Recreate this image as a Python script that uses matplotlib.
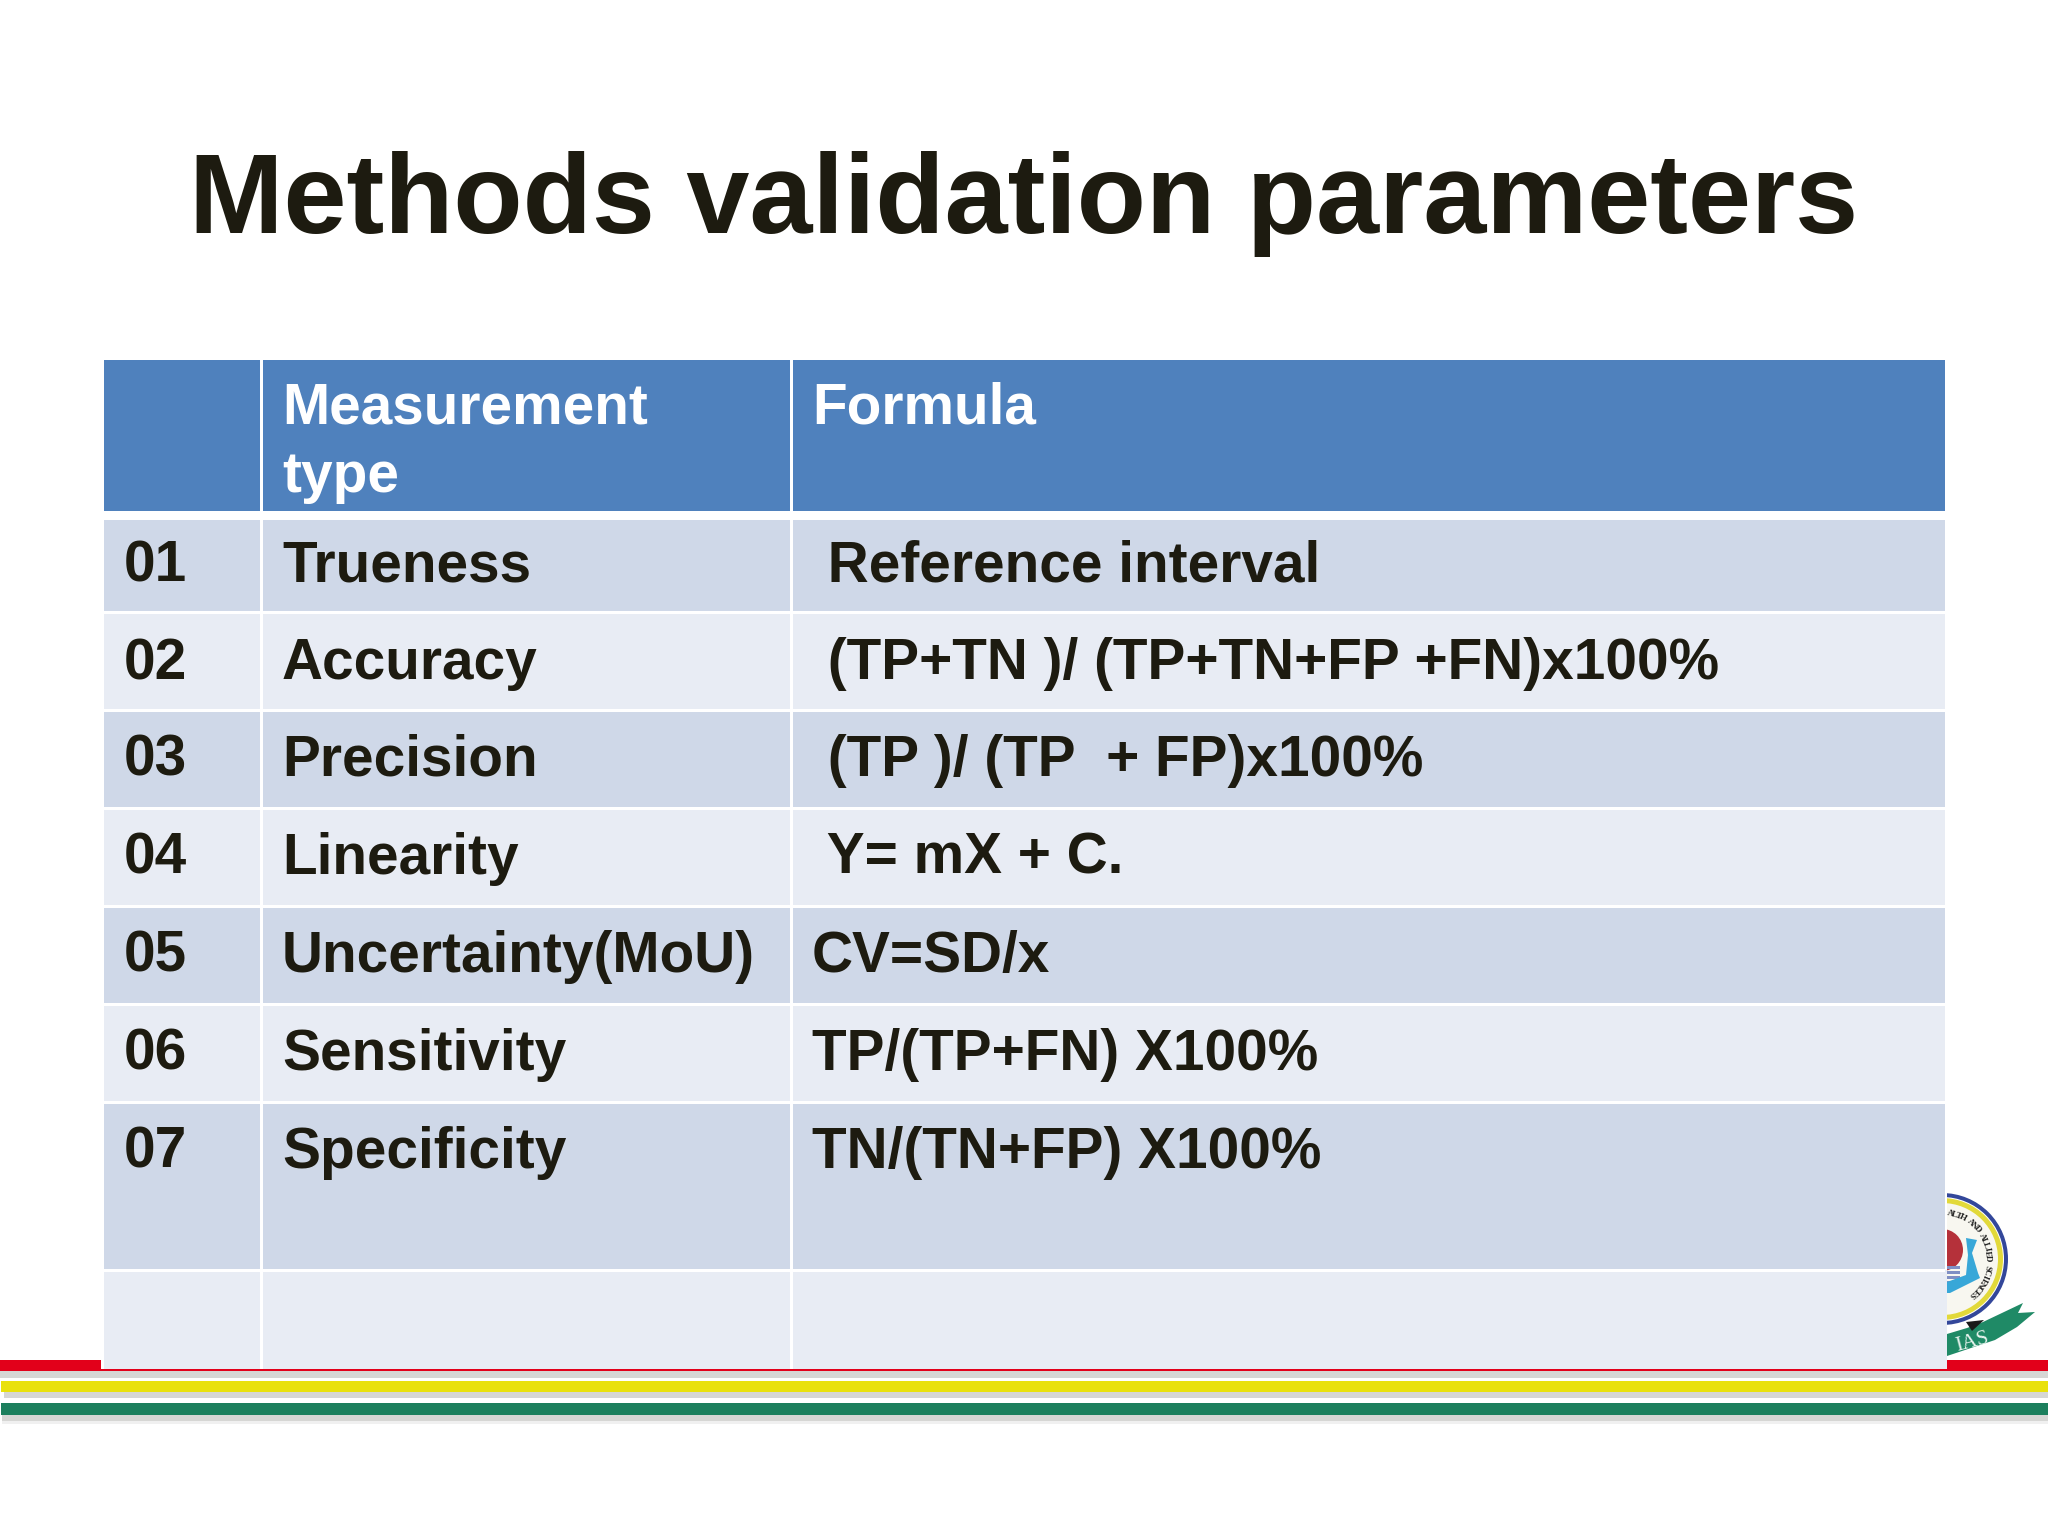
import matplotlib
matplotlib.use("Agg")
import numpy as np
import matplotlib.pyplot as plt
from matplotlib.patches import Rectangle, Circle, Polygon

title = "Methods validation parameters"
numbers = ["01", "02", "03", "04", "05", "06", "07", ""]
measures = ["Trueness", "Accuracy", "Precision", "Linearity", "Uncertainty(MoU)",
            "Sensitivity", "Specificity", ""]
formulas = [" Reference interval", " (TP+TN )/ (TP+TN+FP +FN)x100%", " (TP )/ (TP  + FP)x100%",
            " Y= mX + C.", "CV=SD/x", "TP/(TP+FN) X100%", "TN/(TN+FP) X100%", ""]
header = ["", "Measurement\ntype", "Formula"]

# pixel layout of the slide
col_edges = [104, 261, 791, 1945]
row_edges = [520, 612, 710, 808, 906, 1004, 1102, 1270, 1369]
baselines = [581, 679, 776, 874, 972, 1070, 1168]
text_x = [123.5, 282, 812]

HEAD = "#4f81bd"
BAND1 = "#cfd8e8"
BAND2 = "#e8ecf4"
INK = "#1d1b10"
BODY_SIZE = 40.9

plt.rcParams['font.family'] = ['Liberation Sans', 'DejaVu Sans']

fig = plt.figure(figsize=(20.48, 15.36), dpi=100)
ax = fig.add_axes([0, 0, 1, 1])
ax.set_xlim(0, 2048)
ax.set_ylim(1536, 0)
ax.axis('off')


def rect(x0, y0, x1, y1, color, z=1):
    ax.add_patch(Rectangle((x0, y0), x1 - x0, y1 - y0, facecolor=color, edgecolor='none', zorder=z))


# stripes at the bottom
rect(0, 1360, 2048, 1371, "#e2001a")
rect(0, 1371, 2048, 1378, "#d6d6d4")
rect(1, 1381, 2048, 1392, "#e9e10c")
rect(4, 1392, 2048, 1398, "#d6d6d4")
rect(1, 1403, 2048, 1415, "#1c7f5d")
rect(2, 1415, 2048, 1421, "#d6d6d4")
rect(2, 1421, 2048, 1424, "#f0f0f0")

# logo, the table hides its left part
lx, ly = 1942, 1259
ax.add_patch(Polygon([(1947, 1334), (1967, 1328), (1983, 1322), (2023, 1303), (2018, 1313), (2035, 1312),
                      (2017, 1327), (1995, 1340), (1947, 1356)], facecolor="#1f8a66", edgecolor='none', zorder=1))
ax.add_patch(Polygon([(1966, 1322), (1984, 1320), (1972, 1331)], facecolor="#1a1a1a", edgecolor='none', zorder=1))
ax.add_patch(Circle((lx, ly), 66, facecolor="#33479a", edgecolor='none', zorder=2))
ax.add_patch(Circle((lx, ly), 62, facecolor="white", edgecolor='none', zorder=2))
ax.add_patch(Circle((lx, ly), 61, facecolor="#e2d93a", edgecolor='none', zorder=2))
ax.add_patch(Circle((lx, ly), 56, facecolor="#f8f7f0", edgecolor='none', zorder=2))
ax.add_patch(Circle((lx, 1250), 21, facecolor="#b5313a", edgecolor='none', zorder=2))
for y0 in [1266, 1271, 1276, 1281]:
    rect(1947, y0, 1960, y0 + 3, "#7f8fc4", z=2)
ax.add_patch(Polygon([(1966, 1238), (1977, 1240), (1972, 1253), (1978, 1273), (1980, 1278), (1950, 1293),
                      (1947, 1293), (1947, 1282), (1966, 1275), (1968, 1255)],
                     facecolor="#38a7d8", edgecolor='none', zorder=3))
seal = "ALTH AND ALLIED SCIENCES"
for ch, ang in zip(seal, np.linspace(80, -50, len(seal))):
    a = np.deg2rad(ang)
    ax.text(lx + 46 * np.cos(a), ly - 46 * np.sin(a), ch, fontsize=6.5, family='Liberation Serif', weight='bold',
            color="#222222", rotation=ang - 90, ha='center', va='center', zorder=3)
ax.text(1972, 1342, "IAS", fontsize=15, family='Liberation Serif', color="#e8f3ee", rotation=15,
        ha='center', va='center', zorder=3)

# white behind the table
rect(101, 357, 1947, 1369, "white", z=4)

ax.text(1024, 233, title, fontsize=81.6, weight='bold', color=INK, ha='center', va='baseline', zorder=6)

# header row
rect(col_edges[0], 360, col_edges[3], 511, HEAD, z=5)
for xe in col_edges[1:3]:
    rect(xe - 1.5, 360, xe + 1.5, 511, "white", z=5)
lines = header[1].split("\n")
ax.text(text_x[1], 423, lines[0], fontsize=BODY_SIZE, weight='bold', color="white", va='baseline', zorder=6)
ax.text(text_x[1], 492, lines[1], fontsize=BODY_SIZE, weight='bold', color="white", va='baseline', zorder=6)
ax.text(text_x[2], 423, header[2], fontsize=BODY_SIZE, weight='bold', color="white", va='baseline', zorder=6)

# body rows
for i in range(len(numbers)):
    color = BAND1 if i % 2 == 0 else BAND2
    rect(col_edges[0], row_edges[i], col_edges[3] + (2 if i == 7 else 0), row_edges[i + 1], color, z=5)
    if i > 0:
        rect(col_edges[0], row_edges[i] - 1.5, col_edges[3], row_edges[i] + 1.5, "white", z=5)
    for xe in col_edges[1:3]:
        rect(xe - 1.5, row_edges[i], xe + 1.5, row_edges[i + 1], "white", z=5)
    if numbers[i]:
        ax.text(text_x[0], baselines[i], numbers[i], fontsize=BODY_SIZE, weight='bold', color=INK, va='baseline', zorder=6)
        ax.text(text_x[1], baselines[i], measures[i], fontsize=BODY_SIZE, weight='bold', color=INK, va='baseline', zorder=6)
        ax.text(text_x[2], baselines[i], formulas[i], fontsize=BODY_SIZE, weight='bold', color=INK, va='baseline', zorder=6)

fig.savefig("out.png", dpi=100, facecolor="white")
